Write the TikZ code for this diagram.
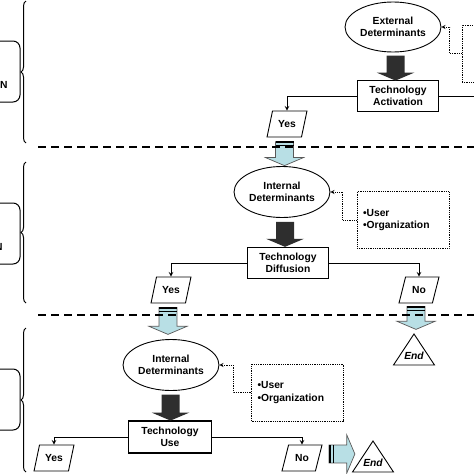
\documentclass[tikz,border=0pt]{standalone}
\usepackage{fontspec}
\setmainfont{Liberation Sans}
\usetikzlibrary{shapes,shapes.arrows,calc,decorations.pathreplacing}
\definecolor{pushfill}{HTML}{2E2E2E}
\definecolor{passfill}{HTML}{B8DFE5}
\tikzset{
    det/.style={ellipse,draw,line width=0.9pt,minimum width=91pt,minimum height=50pt,align=center,inner sep=1pt},
    stage/.style={rectangle,draw,line width=1.2pt,minimum width=81pt,minimum height=31pt,align=center,inner sep=1pt},
    answer/.style={trapezium,trapezium left angle=65,trapezium right angle=115,trapezium stretches=true,draw,line width=0.9pt,minimum width=40pt,minimum height=26pt,inner sep=0pt},
    factors/.style={rectangle,draw,densely dotted,line width=0.8pt,minimum width=92pt,minimum height=57pt,text width=80pt,align=left},
    push/.style={single arrow,fill=pushfill,draw=none,inner xsep=8.5pt,inner ysep=0pt,minimum width=38pt,minimum height=25pt,single arrow head extend=10pt,single arrow tip angle=134,shape border rotate=270},
    pass/.style={push,fill=passfill,draw=gray!70!black,line width=0.7pt},
    phase/.style={rectangle,draw,rounded corners=7pt,line width=1pt,minimum width=80pt,minimum height=61pt},
    sep/.style={-,dashed,dash pattern=on 8pt off 5pt,line width=1.5pt},
}

\begin{document}
\begin{tikzpicture}[x=1pt,y=-1pt,->,>=stealth,line width=1pt,font=\bfseries\fontsize{10.3}{12.5}\selectfont]
                \useasboundingbox (0,0) rectangle (474,474);
                \clip (0,0) rectangle (474,474);

                \node[det] (ext) at (393,27) {External\\Determinants};
                \node[stage] (act) at (398,96) {Technology\\Activation};
                \node[answer] (yes1) at (287,124) {Yes};
                \node[factors,minimum width=66pt,text width=50pt] (extsrc) at (495,53.5) {};
                \node[push] (ar1) at ($(ext.south)!0.5!(act.north)$) {};
                \coordinate (actout) at (480,96);

                \node[det,minimum width=92pt,minimum height=51pt] (int1) at (282,192) {Internal\\Determinants};
                \node[factors] (user1) at (403,220) {\textbullet User\\\textbullet Organization};
                \node[stage] (diff) at (288,263) {Technology\\Diffusion};
                \node[answer] (yes2) at (171,290) {Yes};
                \node[answer] (no2) at (419,290) {No};
                \node[push] (ar2) at ($(int1.south)!0.5!(diff.north)$) {};
                \node[pass,minimum height=24pt] (la1) at ($(yes1.south)!0.5!(int1.north)$) {};

                \node[det,minimum width=92pt,minimum height=51pt] (int2) at (171,365) {Internal\\Determinants};
                \node[factors] (user2) at (297.5,392.5) {\textbullet User\\\textbullet Organization};
                \node[stage,minimum width=83pt,minimum height=32pt] (use) at (170,437) {Technology\\Use};
                \node[answer] (yes3) at (54,458) {Yes};
                \node[answer] (no3) at (302,458) {No};
                \node[push,minimum height=26pt] (ar3) at ($(int2.south)!0.5!(use.north)$) {};
                \node[pass,minimum height=27pt] (la2) at (168,319) {};
                \node[pass,minimum height=23pt] (la3) at (416,316) {};
                \node[font=\bfseries\itshape\fontsize{10.3}{12.5}\selectfont] (end1) at (414,356) {End};
                \node[font=\bfseries\itshape\fontsize{10.3}{12.5}\selectfont] (end2) at (373,463) {End};
                \node[pass,minimum height=26pt,shape border rotate=0,inner xsep=0pt,inner ysep=8.5pt] (la4) at (340,454) {};

                \node[phase] (ph1) at (-20,71.5) {};
                \node[phase] (ph2) at (-20,233.5) {};
                \node[phase] (ph3) at (-20,399.5) {};
                \node[anchor=east,inner sep=0pt] (ph1txt) at (8,85) {N};
                \node[anchor=east,inner sep=0pt] (ph2txt) at (3,247) {N};

                \path (act.east) edge[-] (actout);
                \draw (act.west) -| (yes1.north);
                \draw (diff.west) -| (yes2.north);
                \draw (diff.east) -| (no2.north);
                \draw (use.west) -| (yes3.north);
                \draw (use.east) -| (no3.north);

                \draw[densely dotted,line width=0.8pt] (extsrc.west) -- ++(-12,0) |- (ext.east);
                \draw[densely dotted,line width=0.8pt] (user1.west) -- ++(-14,0) |- (int1.east);
                \draw[densely dotted,line width=0.8pt] (user2.west) -- ++(-18,0) |- (int2.east);

                \foreach \e in {end1,end2}
                    \draw[-,line width=0.9pt] ($(\e)+(-20.5,9)$) -- ($(\e)+(0,-22)$) -- ($(\e)+(20.5,9)$) -- cycle;

                \foreach \t in {la1,la2,la3} {
                    \draw[-,line width=2pt] ($(\t.tail)+(-9,1)$) -- ($(\t.tail)+(9,1)$);
                    \draw[-,line width=1pt] ($(\t.tail)+(-9,4.5)$) -- ($(\t.tail)+(9,4.5)$);
                }
                \draw[-,line width=2pt] ($(la4.tail)+(1,-9)$) -- ($(la4.tail)+(1,9)$);
                \draw[-,line width=1pt] ($(la4.tail)+(4.5,-9)$) -- ($(la4.tail)+(4.5,9)$);

                \draw[-,decorate,decoration={brace,amplitude=5pt}] (26,143) -- (26,1);
                \draw[-,decorate,decoration={brace,amplitude=5pt}] (26,303) -- (26,162);
                \draw[-,decorate,decoration={brace,amplitude=5pt}] (26,472) -- (26,328);

                \draw[sep] (38,147) -- (480,147);
                \draw[sep] (38,315) -- (480,315);
            \end{tikzpicture}
\end{document}
